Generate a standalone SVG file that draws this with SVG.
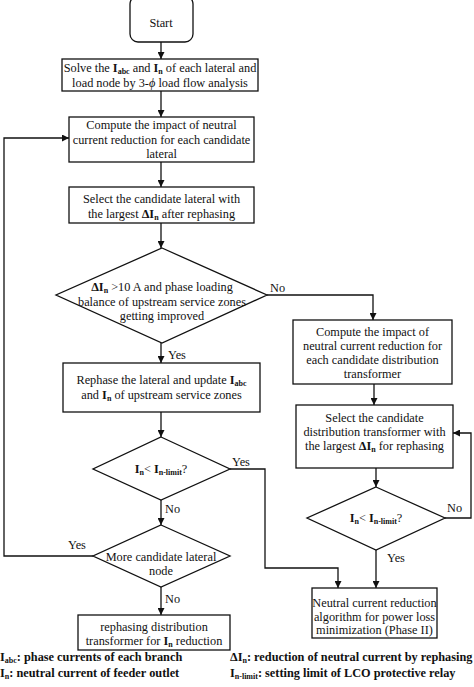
<svg xmlns="http://www.w3.org/2000/svg" width="474" height="687" viewBox="0 0 474 687">
<defs>
<marker id="arr" viewBox="0 0 10 10" refX="10" refY="5" markerWidth="7" markerHeight="7" markerUnits="userSpaceOnUse" orient="auto">
<path d="M0,0 L10,5 L0,10 z" fill="#111"/>
</marker>
<style>
.box{fill:#fff;stroke:#111;stroke-width:1.3}
.ln{fill:none;stroke:#111;stroke-width:1.3}
.t{font-family:"Liberation Serif","Times New Roman",serif;font-size:12.3px;fill:#111;text-anchor:middle}
.l{font-family:"Liberation Serif","Times New Roman",serif;font-size:12.3px;fill:#111}
.b{font-weight:bold}
.s{font-size:8px;font-weight:bold}
.lg{font-family:"Liberation Serif","Times New Roman",serif;font-size:12.3px;font-weight:bold;fill:#111}
</style>
</defs>
<rect width="474" height="687" fill="#fff"/>

<g id="connectors">
<path class="ln" d="M161,42 V59" marker-end="url(#arr)"/>
<path class="ln" d="M161,91 V117" marker-end="url(#arr)"/>
<path class="ln" d="M161,162 V187" marker-end="url(#arr)"/>
<path class="ln" d="M161,223 V248" marker-end="url(#arr)"/>
<path class="ln" d="M267,295 H373 V320" marker-end="url(#arr)"/>
<path class="ln" d="M161,343 V363" marker-end="url(#arr)"/>
<path class="ln" d="M161,412 V437" marker-end="url(#arr)"/>
<path class="ln" d="M230,469 H265 V568 H338 V588" marker-end="url(#arr)"/>
<path class="ln" d="M161,500 V525" marker-end="url(#arr)"/>
<path class="ln" d="M93,556 H4 V138 H69" marker-end="url(#arr)"/>
<path class="ln" d="M161,587 V615" marker-end="url(#arr)"/>
<path class="ln" d="M374,384 V405" marker-end="url(#arr)"/>
<path class="ln" d="M376,468 V487" marker-end="url(#arr)"/>
<path class="ln" d="M445,518 H471 V433 H453" marker-end="url(#arr)"/>
<path class="ln" d="M376,550 V588" marker-end="url(#arr)"/>
<text class="l" x="270" y="292">No</text>
<text class="l" x="168" y="359">Yes</text>
<text class="l" x="232" y="466">Yes</text>
<text class="l" x="165" y="513">No</text>
<text class="l" x="68" y="549">Yes</text>
<text class="l" x="165" y="603">No</text>
<text class="l" x="447" y="512">No</text>
<text class="l" x="387" y="562">Yes</text>
</g>

<g id="start">
<rect class="box" x="130" y="-4" width="63" height="46" rx="8"/>
<text class="t" x="161" y="27">Start</text>
</g>

<g id="solve">
<rect class="box" x="62" y="59" width="196" height="32"/>
<text class="t" x="160" y="72">Solve the <tspan class="b">I</tspan><tspan class="s" dy="2">abc</tspan><tspan dy="-2"> and </tspan><tspan class="b">I</tspan><tspan class="s" dy="2">n</tspan><tspan dy="-2"> of each lateral and</tspan></text>
<text class="t" x="160" y="87">load node by 3-<tspan font-style="italic">ϕ</tspan> load flow analysis</text>
</g>

<g id="compute-lateral">
<rect class="box" x="69" y="117" width="185" height="45"/>
<text class="t" x="161.5" y="129">Compute the impact of neutral</text>
<text class="t" x="161.5" y="143.5">current reduction for each candidate</text>
<text class="t" x="161.5" y="158">lateral</text>
</g>

<g id="select-lateral">
<rect class="box" x="69" y="187" width="185" height="36"/>
<text class="t" x="161.5" y="203">Select the candidate lateral with</text>
<text class="t" x="161.5" y="217.5">the largest <tspan class="b">ΔI</tspan><tspan class="s" dy="2">n</tspan><tspan dy="-2"> after rephasing</tspan></text>
</g>

<g id="decision-delta">
<polygon class="box" points="162,248 267,295 162,343 56,295"/>
<text class="t" x="162" y="291"><tspan class="b">ΔI</tspan><tspan class="s" dy="2">n</tspan><tspan dy="-2"> &gt;10 A and phase loading</tspan></text>
<text class="t" x="162" y="306">balance of upstream service zones</text>
<text class="t" x="162" y="320">getting improved</text>
</g>

<g id="rephase-lateral">
<rect class="box" x="63" y="363" width="197" height="49"/>
<text class="t" x="161.5" y="384">Rephase the lateral and update <tspan class="b">I</tspan><tspan class="s" dy="2">abc</tspan></text>
<text class="t" x="161.5" y="399">and <tspan class="b">I</tspan><tspan class="s" dy="2">n</tspan><tspan dy="-2"> of upstream service zones</tspan></text>
</g>

<g id="decision-limit-1">
<polygon class="box" points="161,437 230,469 161,500 93,469"/>
<text class="t" x="161" y="473"><tspan class="b">I</tspan><tspan class="s" dy="2">n</tspan><tspan dy="-2">&lt; </tspan><tspan class="b">I</tspan><tspan class="s" dy="2">n-limit</tspan><tspan dy="-2">?</tspan></text>
</g>

<g id="decision-more">
<polygon class="box" points="161,525 230,556 161,587 93,556"/>
<text class="t" x="161" y="561">More candidate lateral</text>
<text class="t" x="161" y="575">node</text>
</g>

<g id="rephase-transformer">
<rect class="box" x="78" y="615" width="152" height="35"/>
<text class="t" x="154" y="631">rephasing distribution</text>
<text class="t" x="154" y="645">transformer for <tspan class="b">I</tspan><tspan class="s" dy="2">n</tspan><tspan dy="-2"> reduction</tspan></text>
</g>

<g id="compute-transformer">
<rect class="box" x="293" y="320" width="159" height="64"/>
<text class="t" x="372.5" y="335.5">Compute the impact of</text>
<text class="t" x="372.5" y="349.5">neutral current reduction for</text>
<text class="t" x="372.5" y="363.5">each candidate distribution</text>
<text class="t" x="372.5" y="377.5">transformer</text>
</g>

<g id="select-transformer">
<rect class="box" x="296" y="405" width="157" height="63"/>
<text class="t" x="374.5" y="422">Select the candidate</text>
<text class="t" x="374.5" y="436">distribution transformer with</text>
<text class="t" x="374.5" y="450">the largest <tspan class="b">ΔI</tspan><tspan class="s" dy="2">n</tspan><tspan dy="-2"> for rephasing</tspan></text>
</g>

<g id="decision-limit-2">
<polygon class="box" points="376,487 445,518 376,550 307,518"/>
<text class="t" x="376" y="522"><tspan class="b">I</tspan><tspan class="s" dy="2">n</tspan><tspan dy="-2">&lt; </tspan><tspan class="b">I</tspan><tspan class="s" dy="2">n-limit</tspan><tspan dy="-2">?</tspan></text>
</g>

<g id="phase-two">
<rect class="box" x="312" y="588" width="125" height="50"/>
<text class="t" x="374.5" y="607">Neutral current reduction</text>
<text class="t" x="374.5" y="620.5">algorithm for power loss</text>
<text class="t" x="374.5" y="634">minimization (Phase II)</text>
</g>

<g id="legend">
<text class="lg" x="0" y="661">I<tspan class="s" dy="2">abc</tspan><tspan dy="-2">: phase currents of each branch</tspan></text>
<text class="lg" x="0" y="677">I<tspan class="s" dy="2">n</tspan><tspan dy="-2">: neutral current of feeder outlet</tspan></text>
<text class="lg" x="230" y="661">ΔI<tspan class="s" dy="2">n</tspan><tspan dy="-2">: reduction of neutral current by rephasing</tspan></text>
<text class="lg" x="230" y="677">I<tspan class="s" dy="2">n-limit</tspan><tspan dy="-2">: setting limit of LCO protective relay</tspan></text>
</g>
</svg>
